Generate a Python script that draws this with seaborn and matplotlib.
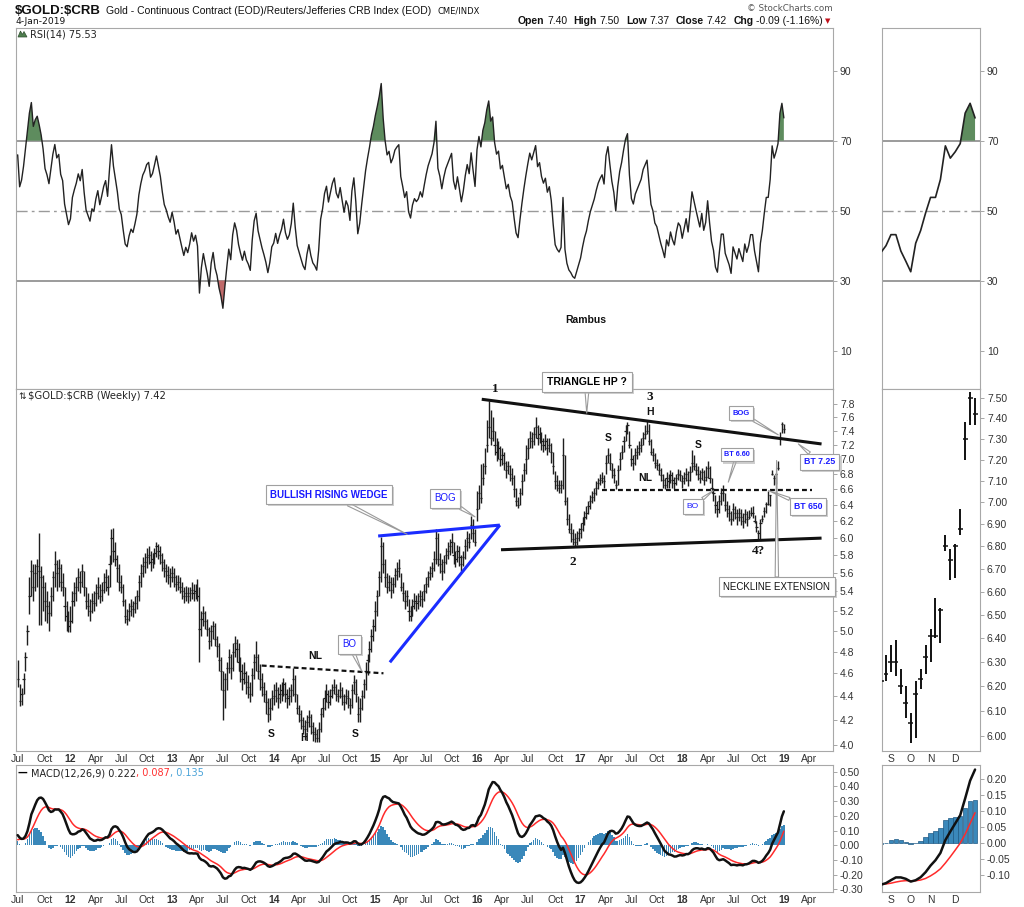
import numpy as np
import pandas as pd
import matplotlib
matplotlib.use("Agg")
import matplotlib.pyplot as plt
import matplotlib.ticker as mticker
import matplotlib.patheffects as pe
from matplotlib.patches import Polygon
import seaborn as sns

# ---------------- data (weekly bars, $GOLD:$CRB, first bar 2011-07-01) ----------------
START = "2011-07-01"
CLOSE = [
    4.55, 4.36, 4.42, 4.55, 4.75,  5.00, 5.35, 5.62, 5.45,  5.60, 5.68, 5.62, 5.55, 5.45,
    5.30, 5.25, 5.18, 5.35,  5.55, 5.70, 5.60, 5.65,  5.50, 5.45, 5.25, 5.15, 5.05,
    5.10, 5.30, 5.38, 5.45,  5.55, 5.50, 5.62, 5.45,  5.30, 5.25, 5.20, 5.30, 5.28,
    5.38, 5.45, 5.35, 5.42,  5.50, 5.55, 5.45, 5.70,  6.00, 5.85, 5.75, 5.65, 5.50,
    5.45, 5.30, 5.15, 5.12,  5.20, 5.25, 5.22, 5.28, 5.35,  5.50, 5.60, 5.68, 5.72,
    5.78, 5.80, 5.72, 5.75,  5.82, 5.90, 5.85, 5.80,  5.72, 5.65, 5.62, 5.58, 5.55,
    5.60, 5.55, 5.48, 5.50,  5.45, 5.40, 5.35, 5.38,  5.35, 5.38, 5.42, 5.38, 5.40,
    5.35, 5.02, 5.12, 5.18,  5.10, 5.02, 4.90, 5.00,  5.05, 4.92, 4.85, 4.72, 4.62,
    4.45, 4.55, 4.65, 4.75,  4.65, 4.80, 4.88, 4.82,  4.70, 4.62, 4.55, 4.60, 4.52,
    4.48, 4.42, 4.58, 4.70,  4.75, 4.62, 4.55, 4.48,  4.42, 4.35, 4.25, 4.30, 4.38,
    4.40, 4.45, 4.38, 4.42,  4.45, 4.50, 4.42, 4.38, 4.40,  4.45, 4.55, 4.42, 4.30,
    4.25, 4.20, 4.15, 4.12,  4.18, 4.22, 4.15, 4.10, 4.08,  4.05, 4.12, 4.25, 4.30,
    4.38, 4.42, 4.35, 4.40,  4.45, 4.48, 4.42, 4.40, 4.45,  4.40, 4.35, 4.40, 4.38,
    4.32, 4.45, 4.52, 4.42, 4.25,  4.30, 4.40, 4.50, 4.62,  4.72, 4.82, 4.95, 5.05,
    5.20, 5.35, 5.55, 5.90, 5.70,  5.55, 5.45, 5.50, 5.42,  5.48, 5.58, 5.62, 5.65,
    5.45, 5.38, 5.30, 5.35,  5.20, 5.15, 5.25, 5.30, 5.28,  5.30, 5.35, 5.32, 5.40,
    5.48, 5.55, 5.60, 5.65, 5.75,  6.00, 5.75, 5.70, 5.62,  5.72, 5.80, 5.85, 5.90,
    5.95, 5.80, 5.75, 5.85, 5.78,  5.70, 5.78, 5.90, 6.00,  5.95, 6.15, 6.05, 5.95,
    6.35, 6.55, 6.48, 6.75, 6.90,  7.20, 7.45, 7.30, 7.40,  7.20, 7.10, 7.15, 7.00,
    7.05, 6.95, 6.85, 6.90, 6.80,  6.75, 6.60, 6.45, 6.40,  6.55, 6.70, 6.85, 7.00,
    7.15, 7.30, 7.25, 7.35, 7.45,  7.30, 7.35, 7.25, 7.20,  7.25, 7.15, 7.20, 7.10, 6.90,
    6.70, 6.65, 6.62, 6.65,  7.05, 6.45, 6.22, 6.10,  6.05, 5.98, 5.95, 6.00, 6.05,
    6.10, 6.18, 6.25, 6.30,  6.38, 6.45, 6.50, 6.55,  6.62, 6.68, 6.72, 6.75, 6.70,
    6.95, 7.05, 6.95, 6.85,  6.78, 6.65, 6.85, 7.00,  7.10, 7.25, 7.40, 7.48, 7.20,
    7.00, 6.95, 7.05, 7.10,  7.15, 7.20, 7.30, 7.35,  7.40, 7.25, 7.10, 7.05, 6.95,
    6.92, 6.85, 6.78, 6.72,  6.65, 6.75, 6.70, 6.78,  6.72, 6.68, 6.75, 6.80, 6.78,
    6.70, 6.75, 6.80, 6.72,  6.82, 6.95, 6.90, 6.85,  6.80, 6.75, 6.82, 6.72, 6.76,
    6.88, 6.75, 6.62, 6.55,  6.40, 6.35, 6.45, 6.55,  6.55, 6.40, 6.35, 6.30, 6.22,
    6.35, 6.30, 6.25, 6.30,  6.25, 6.20, 6.28, 6.22,
    6.25, 6.30, 6.30, 6.20, 6.13,  6.05, 6.17, 6.23, 6.32, 6.41,
    6.41, 6.52, 6.80, 6.74, 6.80,  6.88, 7.30, 7.50, 7.42,
]
HIGH = [
    4.72, 4.50, 4.47, 4.60, 4.80,  5.06, 5.55, 5.74, 5.70,  5.70, 5.75, 6.06, 5.68, 5.58,
    5.50, 5.40, 5.30, 5.45,  5.62, 5.85, 5.74, 5.75,  5.70, 5.60, 5.45, 5.30, 5.20,
    5.25, 5.40, 5.50, 5.55,  5.65, 5.62, 5.70, 5.62,  5.45, 5.38, 5.32, 5.38, 5.40,
    5.48, 5.55, 5.48, 5.50,  5.60, 5.64, 5.58, 5.80,  6.10, 6.12, 5.95, 5.80, 5.70,
    5.58, 5.48, 5.32, 5.22,  5.28, 5.32, 5.30, 5.35, 5.42,  5.58, 5.70, 5.78, 5.82,
    5.88, 5.90, 5.85, 5.82,  5.88, 5.95, 5.93, 5.90,  5.82, 5.75, 5.70, 5.68, 5.65,
    5.68, 5.65, 5.58, 5.58,  5.55, 5.50, 5.45, 5.46,  5.45, 5.45, 5.50, 5.48, 5.48,
    5.53, 5.45, 5.20, 5.25,  5.20, 5.12, 5.04, 5.06,  5.10, 5.08, 4.95, 4.88, 4.75,
    4.62, 4.60, 4.70, 4.82,  4.78, 4.88, 4.95, 4.92,  4.88, 4.75, 4.68, 4.70, 4.62,
    4.58, 4.52, 4.65, 4.78,  4.90, 4.78, 4.68, 4.60,  4.52, 4.45, 4.38, 4.38, 4.45,
    4.50, 4.52, 4.48, 4.50,  4.52, 4.56, 4.52, 4.46, 4.48,  4.50, 4.65, 4.58, 4.42,
    4.32, 4.28, 4.22, 4.20,  4.24, 4.28, 4.25, 4.18, 4.14,  4.12, 4.18, 4.30, 4.38,
    4.45, 4.50, 4.45, 4.46,  4.50, 4.55, 4.50, 4.46, 4.52,  4.48, 4.42, 4.46, 4.45,
    4.38, 4.50, 4.58, 4.55, 4.40,  4.38, 4.45, 4.55, 4.70,  4.78, 4.90, 5.02, 5.12,
    5.30, 5.42, 5.62, 6.01, 5.95,  5.75, 5.60, 5.58, 5.55,  5.55, 5.65, 5.72, 5.75,
    5.60, 5.50, 5.42, 5.42,  5.32, 5.25, 5.32, 5.38, 5.36,  5.38, 5.42, 5.40, 5.48,
    5.55, 5.62, 5.68, 5.72, 5.85,  6.10, 6.05, 5.82, 5.75,  5.80, 5.88, 5.95, 5.98,
    6.05, 5.95, 5.85, 5.92, 5.90,  5.80, 5.85, 5.98, 6.08,  6.05, 6.26, 6.22, 6.10,
    6.57, 6.65, 6.93, 6.95, 7.15,  7.55, 7.85, 7.70, 7.60,  7.40, 7.30, 7.25, 7.18,
    7.15, 7.10, 6.98, 6.98, 6.92,  6.88, 6.78, 6.62, 6.50,  6.62, 6.80, 6.95, 7.20,
    7.30, 7.40, 7.38, 7.45, 7.60,  7.48, 7.45, 7.38, 7.30,  7.35, 7.30, 7.30, 7.22, 7.10,
    6.84, 6.78, 6.72, 6.72,  7.30, 7.05, 6.50, 6.28,  6.18, 6.10, 6.05, 6.08, 6.12,
    6.18, 6.25, 6.32, 6.38,  6.45, 6.52, 6.58, 6.62,  6.70, 6.75, 6.80, 6.82, 6.78,
    7.05, 7.15, 7.08, 6.95,  6.88, 6.72, 6.92, 7.10,  7.20, 7.32, 7.48, 7.52, 7.40,
    7.15, 7.05, 7.15, 7.20,  7.25, 7.30, 7.38, 7.48,  7.55, 7.50, 7.28, 7.15, 7.08,
    7.00, 6.95, 6.88, 6.80,  6.75, 6.82, 6.80, 6.85,  6.82, 6.76, 6.80, 6.86, 6.85,
    6.78, 6.82, 6.88, 6.84,  6.90, 7.12, 7.05, 6.95,  6.90, 6.85, 6.88, 6.85, 6.90,
    6.98, 6.90, 6.75, 6.62,  6.52, 6.45, 6.52, 6.62,  6.65, 6.55, 6.45, 6.40, 6.32,
    6.42, 6.38, 6.35, 6.36,  6.35, 6.30, 6.35, 6.32,
    6.33, 6.37, 6.39, 6.27, 6.20,  6.09, 6.22, 6.27, 6.37, 6.44,
    6.57, 6.53, 6.85, 6.79, 6.81,  6.97, 7.38, 7.53, 7.50,
]
LOW = [
    4.48, 4.31, 4.32, 4.42, 4.62,  4.86, 5.17, 5.35, 5.30,  5.40, 5.45, 5.06, 5.06, 5.20,
    5.10, 5.08, 5.00, 5.15,  5.30, 5.45, 5.40, 5.45,  5.40, 5.35, 5.10, 5.00, 4.99,
    4.99, 5.08, 5.25, 5.30,  5.40, 5.38, 5.45, 5.35,  5.22, 5.15, 5.10, 5.18, 5.20,
    5.25, 5.32, 5.28, 5.30,  5.38, 5.40, 5.36, 5.45,  5.70, 5.72, 5.68, 5.50, 5.40,
    5.38, 5.25, 5.08, 5.06,  5.10, 5.15, 5.14, 5.18, 5.22,  5.30, 5.45, 5.55, 5.60,
    5.65, 5.70, 5.62, 5.65,  5.70, 5.78, 5.75, 5.70,  5.62, 5.55, 5.50, 5.48, 5.45,
    5.50, 5.45, 5.40, 5.42,  5.38, 5.32, 5.28, 5.30,  5.28, 5.30, 5.32, 5.30, 5.32,
    5.30, 4.70, 4.95, 5.05,  5.02, 4.95, 4.82, 4.85,  4.92, 4.85, 4.75, 4.62, 4.45,
    4.20, 4.30, 4.45, 4.60,  4.55, 4.62, 4.75, 4.70,  4.62, 4.52, 4.45, 4.50, 4.42,
    4.38, 4.35, 4.40, 4.55,  4.62, 4.55, 4.45, 4.40,  4.35, 4.25, 4.18, 4.20, 4.28,
    4.32, 4.35, 4.30, 4.34,  4.36, 4.40, 4.35, 4.30, 4.32,  4.35, 4.40, 4.35, 4.25,
    4.18, 4.12, 4.08, 4.04,  4.10, 4.14, 4.08, 4.03, 4.02,  4.02, 4.02, 4.10, 4.22,
    4.28, 4.35, 4.30, 4.32,  4.38, 4.42, 4.36, 4.35, 4.38,  4.32, 4.28, 4.33, 4.30,
    4.25, 4.30, 4.42, 4.35, 4.18,  4.18, 4.28, 4.38, 4.45,  4.58, 4.70, 4.80, 4.90,
    5.00, 5.15, 5.35, 5.50, 5.60,  5.45, 5.38, 5.40, 5.33,  5.38, 5.45, 5.52, 5.55,
    5.40, 5.30, 5.22, 5.25,  5.10, 5.10, 5.15, 5.22, 5.20,  5.22, 5.25, 5.24, 5.30,
    5.38, 5.45, 5.52, 5.55, 5.62,  5.70, 5.68, 5.60, 5.52,  5.60, 5.70, 5.75, 5.80,
    5.82, 5.70, 5.66, 5.72, 5.68,  5.62, 5.68, 5.76, 5.85,  5.88, 5.98, 5.95, 5.90,
    6.20, 6.35, 6.42, 6.65, 6.80,  7.10, 7.30, 7.20, 7.25,  7.05, 6.98, 7.00, 6.90,
    6.92, 6.85, 6.75, 6.80, 6.70,  6.65, 6.50, 6.38, 6.36,  6.40, 6.52, 6.70, 6.80,
    7.00, 7.15, 7.15, 7.20, 7.30,  7.20, 7.22, 7.12, 7.10,  7.12, 7.05, 7.10, 6.95, 6.80,
    6.60, 6.57, 6.55, 6.55,  6.60, 6.40, 6.15, 6.05,  5.95, 5.92, 5.90, 5.91, 5.96,
    6.00, 6.08, 6.15, 6.22,  6.28, 6.35, 6.42, 6.45,  6.52, 6.60, 6.65, 6.68, 6.62,
    6.80, 6.95, 6.85, 6.75,  6.68, 6.60, 6.65, 6.85,  7.00, 7.10, 7.25, 7.35, 7.15,
    6.90, 6.85, 6.92, 7.00,  7.05, 7.10, 7.20, 7.28,  7.35, 7.20, 7.05, 6.98, 6.88,
    6.85, 6.78, 6.70, 6.62,  6.60, 6.62, 6.62, 6.68,  6.62, 6.60, 6.65, 6.72, 6.70,
    6.62, 6.66, 6.70, 6.64,  6.70, 6.82, 6.85, 6.78,  6.72, 6.68, 6.72, 6.65, 6.70,
    6.75, 6.68, 6.55, 6.45,  6.30, 6.25, 6.30, 6.40,  6.45, 6.32, 6.25, 6.20, 6.15,
    6.20, 6.22, 6.15, 6.20,  6.15, 6.12, 6.18, 6.14,
    6.22, 6.26, 6.24, 6.17, 6.07,  5.97, 5.99, 6.19, 6.25, 6.30,
    6.40, 6.38, 6.78, 6.65, 6.66,  6.85, 7.20, 7.37, 7.37,
]
# indicator starting state (estimated so that the first values match the chart)
AVG_GAIN_0, AVG_LOSS_0 = 0.060, 0.031
EMA12_0, EMA26_0, SIGNAL_0 = 4.50, 4.43, 0.03

# chart annotations (date, price)
TRENDLINES = [
    ("2016-01-18", 7.87, "2019-05-19", 7.21, "#111111", 2.2, "-"),
    ("2016-03-27", 5.86, "2019-05-19", 5.995, "#111111", 2.2, "-"),
    ("2015-01-12", 6.02, "2016-03-23", 6.15, "#1a2cff", 2.2, "-"),
    ("2015-02-23", 4.70, "2016-03-23", 6.15, "#1a2cff", 2.2, "-"),
    ("2017-03-22", 6.59, "2019-04-13", 6.59, "#111111", 1.6, "--"),
    ("2013-11-21", 4.67, "2015-01-31", 4.60, "#111111", 1.6, "--"),
]
CALLOUTS = [
    ("TRIANGLE HP ?", "2017-01-29", 8.14, "2017-01-28", 7.66, "#000000", "bold", 7.5),
    ("BULLISH RISING WEDGE", "2014-07-20", 6.53, "2015-04-26", 6.04, "#1a1aff", "bold", 7.0),
    ("BOG", "2015-09-08", 6.48, "2015-12-25", 6.25, "#1a1aff", "normal", 7.0),
    ("BO", "2014-10-01", 4.87, "2014-11-14", 4.62, "#1a1aff", "normal", 7.0),
    ("BOG", "2018-08-04", 7.66, "2018-12-15", 7.34, "#1a1aff", "bold", 5.5),
    ("BT 7.25", "2019-05-13", 6.96, "2019-02-25", 7.21, "#1a1aff", "bold", 6.3),
    ("BT 6.60", "2018-07-21", 7.06, "2018-06-19", 6.69, "#1a1aff", "bold", 5.2),
    ("BO", "2018-02-12", 6.38, "2018-04-26", 6.58, "#1a1aff", "normal", 6.0),
    ("BT 650", "2019-03-31", 6.38, "2018-11-10", 6.58, "#1a1aff", "bold", 6.2),
    ("NECKLINE EXTENSION", "2018-12-10", 5.45, "2018-12-09", 6.98, "#111111", "normal", 7.0),
]
LABELS = [
    ("1", "2016-03-08", 8.03, 9.5, "serif"), ("2", "2016-12-09", 5.72, 9.5, "serif"),
    ("3", "2017-09-12", 7.91, 9.5, "serif"), ("4?", "2018-10-05", 5.84, 9.5, "serif"),
    ("H", "2017-09-11", 7.68, 7.5, "sans"), ("S", "2017-04-15", 7.30, 7.5, "sans"),
    ("S", "2018-03-03", 7.19, 7.5, "sans"), ("NL", "2017-08-25", 6.74, 7.5, "sans"),
    ("S", "2013-12-23", 4.08, 7.5, "sans"), ("H", "2014-04-21", 4.05, 7.5, "sans"),
    ("S", "2014-10-21", 4.08, 7.5, "sans"), ("NL", "2014-05-31", 4.76, 7.5, "sans"),
]
RSI_TICKS = [10, 30, 50, 70, 90]
PRICE_TICKS = [4.0, 4.2, 4.4, 4.6, 4.8, 5.0, 5.2, 5.4, 5.6, 5.8, 6.0, 6.2, 6.4, 6.6, 6.8, 7.0, 7.2, 7.4, 7.6, 7.8]
PRICE_TICKS_R = [6.0, 6.1, 6.2, 6.3, 6.4, 6.5, 6.6, 6.7, 6.8, 6.9, 7.0, 7.1, 7.2, 7.3, 7.4, 7.5]
MACD_TICKS = [-0.3, -0.2, -0.1, 0.0, 0.1, 0.2, 0.3, 0.4, 0.5]
MACD_TICKS_R = [-0.10, -0.05, 0.0, 0.05, 0.10, 0.15, 0.20]

# ---------------- setup ----------------
sns.set_theme(style="white")
plt.rcParams["font.family"] = ["Liberation Sans", "DejaVu Sans"]
plt.rcParams["axes.unicode_minus"] = False

dates = pd.date_range(START, periods=len(CLOSE), freq="W-FRI")
close = np.array(CLOSE, float)
high = np.array(HIGH, float)
low = np.array(LOW, float)


def ema(vals, span, seed):
    a = 2.0 / (span + 1)
    out, prev = [], seed
    for v in vals:
        prev = prev + a * (v - prev)
        out.append(prev)
    return np.array(out)


macd = ema(close, 12, EMA12_0) - ema(close, 26, EMA26_0)
signal = ema(macd, 9, SIGNAL_0)
hist = macd - signal
ag, al = AVG_GAIN_0, AVG_LOSS_0
rsi = [100 - 100 / (1 + ag / al)]
for k in range(1, len(close)):
    d = close[k] - close[k - 1]
    ag = (ag * 13 + max(d, 0)) / 14
    al = (al * 13 + max(-d, 0)) / 14
    rsi.append(100 - 100 / (1 + ag / al))
rsi = np.array(rsi)

W, H = 1024, 907
fig = plt.figure(figsize=(W / 100, H / 100), dpi=100)
fig.patch.set_facecolor("white")


def add_ax(x0, y0, x1, y1):
    return fig.add_axes([x0 / W, 1 - y1 / H, (x1 - x0) / W, (y1 - y0) / H])


ax_rsi = add_ax(16, 28, 833, 389)
ax_rsi_r = add_ax(882, 28, 980, 389)
ax_p = add_ax(16, 389, 833, 751)
ax_p_r = add_ax(882, 389, 980, 751)
ax_m = add_ax(16, 765, 833, 892)
ax_m_r = add_ax(882, 765, 980, 892)

XL_MAIN = (pd.Timestamp("2011-06-25"), pd.Timestamp("2019-06-29"))
XL_R = (pd.Timestamp("2018-08-25 08:00"), pd.Timestamp("2019-01-11"))

fridays = pd.Series(pd.date_range("2011-07-01", "2019-06-28", freq="W-FRI"))
firsts = fridays.groupby([fridays.dt.year, fridays.dt.month]).first().tolist()
main_ticks = [t for t in firsts if t.month in (1, 4, 7, 10)]
main_labels = [f"{t.year % 100:02d}" if t.month == 1 else t.strftime("%b") for t in main_ticks]
r_ticks = [t for t in firsts if t.year == 2018 and t.month in (9, 10, 11, 12)]
r_labels = ["S", "O", "N", "D"]


def style(ax, xticks, xlabels, show_x):
    for s in ax.spines.values():
        s.set_color("#a8a8a8")
        s.set_linewidth(0.8)
    ax.set_facecolor("white")
    ax.grid(False)
    ax.yaxis.tick_right()
    ax.tick_params(axis="y", which="major", length=3, width=0.6, color="#999999", pad=2,
                   labelsize=7.5, labelcolor="#333333", left=False, right=True)
    ax.tick_params(axis="y", which="minor", length=0, left=False, right=False)
    ax.set_xticks(xticks)
    if show_x:
        ax.set_xticklabels(xlabels)
        for lbl in ax.get_xticklabels():
            if lbl.get_text().isdigit():
                lbl.set_fontweight("bold")
    else:
        ax.set_xticklabels([])
    ax.tick_params(axis="x", length=0, pad=2.5, labelsize=7.5, labelcolor="#333333", bottom=True)
    ax.set_xlabel("")
    ax.set_ylabel("")


# ---------------- RSI ----------------
for ax, lw in ((ax_rsi, 1.0), (ax_rsi_r, 1.2)):
    ax.axhline(70, color="#8a8a8a", lw=1.2, zorder=1)
    ax.axhline(30, color="#8a8a8a", lw=1.2, zorder=1)
    ax.axhline(50, color="#9a9a9a", lw=1.0, dashes=(8, 3, 2, 3), zorder=1)
    ax.fill_between(dates, 70, rsi, where=rsi >= 70, interpolate=True, color="#5e8c5e", lw=0, zorder=2)
    ax.fill_between(dates, 30, rsi, where=rsi <= 30, interpolate=True, color="#c06a6a", lw=0, zorder=2)
    sns.lineplot(x=dates, y=rsi, ax=ax, color="#222222", linewidth=lw, zorder=3)
    ax.set_ylim(-1, 102.2)
    ax.set_yticks(RSI_TICKS)
    ax.yaxis.set_major_formatter(mticker.FormatStrFormatter("%d"))
ax_rsi.set_xlim(*XL_MAIN)
ax_rsi_r.set_xlim(*XL_R)
style(ax_rsi, main_ticks, main_labels, False)
style(ax_rsi_r, r_ticks, r_labels, False)
ax_rsi.text(0.697, 0.19, "Rambus", transform=ax_rsi.transAxes, ha="center", va="center",
            fontsize=7.5, fontweight="bold", color="#111111")

# ---------------- price ----------------
ax_p.set_yscale("log")
ax_p.vlines(dates, low, high, color="#1e1e1e", lw=1.0, zorder=3)
ax_p.hlines(close, dates - pd.Timedelta(days=4), dates + pd.Timedelta(days=4), color="#1e1e1e", lw=0.9, zorder=3)
ax_p.set_xlim(*XL_MAIN)
ax_p.set_ylim(3.95, 8.03)
ax_p.yaxis.set_major_locator(mticker.FixedLocator(PRICE_TICKS))
ax_p.yaxis.set_major_formatter(mticker.FormatStrFormatter("%.1f"))
ax_p.yaxis.set_minor_locator(mticker.NullLocator())
style(ax_p, main_ticks, main_labels, True)

ax_p_r.set_yscale("log")
ax_p_r.vlines(dates, low, high, color="#111111", lw=1.4, zorder=3)
ax_p_r.hlines(close, dates - pd.Timedelta(days=3.5), dates + pd.Timedelta(days=3.5), color="#111111", lw=1.1, zorder=3)
ax_p_r.set_xlim(*XL_R)
ax_p_r.set_ylim(5.94, 7.545)
ax_p_r.yaxis.set_major_locator(mticker.FixedLocator(PRICE_TICKS_R))
ax_p_r.yaxis.set_major_formatter(mticker.FormatStrFormatter("%.2f"))
ax_p_r.yaxis.set_minor_locator(mticker.NullLocator())
style(ax_p_r, r_ticks, r_labels, True)

for d0, p0, d1, p1, col, lw, ls in TRENDLINES:
    ax_p.plot([pd.Timestamp(d0), pd.Timestamp(d1)], [p0, p1], color=col, lw=lw, ls=ls,
              dashes=(2.2, 1.4) if ls == "--" else (None, None), zorder=4, solid_capstyle="butt")

for txt, d, p, fs, fam in LABELS:
    ax_p.text(pd.Timestamp(d), p, txt, ha="center", va="center", fontsize=fs, fontweight="bold",
              family=["Liberation Serif"] if fam == "serif" else ["Liberation Sans"],
              color="#111111", clip_on=False, zorder=6)

for txt, d, p, td, tp, col, wt, fs in CALLOUTS:
    ann = ax_p.annotate(
        txt, xy=(pd.Timestamp(td), tp), xytext=(pd.Timestamp(d), p), textcoords="data",
        ha="center", va="center", fontsize=fs, fontweight=wt, color=col,
        bbox=dict(boxstyle="square,pad=0.45", fc="white", ec="#a0a0a0", lw=0.8),
        arrowprops=dict(arrowstyle="wedge,tail_width=0.35,shrink_factor=0.5", fc="white", ec="#9a9a9a",
                        lw=0.8, shrinkA=0, shrinkB=0),
        annotation_clip=False, zorder=8)
    ann.get_bbox_patch().set_path_effects([pe.SimplePatchShadow(offset=(1.5, -1.5), shadow_rgbFace="#b0b0b0", alpha=0.6), pe.Normal()])

# ---------------- MACD ----------------
for ax, bw, ec in ((ax_m, 5.5, "none"), (ax_m_r, 6.4, "#1e5a85")):
    ax.bar(dates, hist, width=bw, color="#3a88ba", edgecolor=ec, linewidth=0.5, zorder=2)
    sns.lineplot(x=dates, y=macd, ax=ax, color="#111111", linewidth=1.8, zorder=4)
    sns.lineplot(x=dates, y=signal, ax=ax, color="#ff2a2a", linewidth=1.1, zorder=3)
ax_m.set_xlim(*XL_MAIN)
ax_m.set_ylim(-0.318, 0.546)
ax_m.set_yticks(MACD_TICKS)
ax_m.yaxis.set_major_formatter(mticker.FormatStrFormatter("%.2f"))
style(ax_m, main_ticks, main_labels, True)
ax_m_r.set_xlim(*XL_R)
ax_m_r.set_ylim(-0.152, 0.245)
ax_m_r.set_yticks(MACD_TICKS_R)
ax_m_r.yaxis.set_major_formatter(mticker.FormatStrFormatter("%.2f"))
style(ax_m_r, r_ticks, r_labels, True)

# ---------------- header / panel titles ----------------
renderer = fig.canvas.get_renderer()


def run(x, y, parts, align="left"):
    arts, widths = [], []
    for s, kw, gap in parts:
        t = fig.text(0, 0, s, va="center", ha="left", **kw)
        arts.append(t)
        widths.append(t.get_window_extent(renderer).width + gap)
    cur = x - sum(widths) if align == "right" else x
    for t, w in zip(arts, widths):
        t.set_position((cur / W, 1 - y / H))
        cur += w


DV = ["DejaVu Sans"]
run(15, 10.5, [("\\$GOLD:\\$CRB", dict(fontsize=9.5, fontweight="bold", color="#111"), 5),
               ("Gold - Continuous Contract (EOD)/Reuters/Jefferies CRB Index (EOD)", dict(fontsize=7.5, color="#111"), 6),
               ("CME/INDX", dict(fontsize=6, family=DV, color="#111"), 0)])
run(15, 21.5, [("4-Jan-2019", dict(fontsize=6.6, family=DV, color="#111"), 0)])
fig.text(833 / W, 1 - 8.5 / H, "\u00a9 StockCharts.com", ha="right", va="center", fontsize=6.3, family=DV, color="#555555")
B = dict(fontsize=7.5, fontweight="bold", color="#111")
R = dict(fontsize=7.5, color="#111")
run(823, 21, [("Open", B, 3), ("7.40", R, 6), ("High", B, 3), ("7.50", R, 6), ("Low", B, 3), ("7.37", R, 6),
              ("Close", B, 3), ("7.42", R, 6), ("Chg", B, 3), ("-0.09 (-1.16%)", R, 0)], align="right")
fig.text(825 / W, 1 - 21 / H, "\u25bc", ha="left", va="center", fontsize=5, family=DV, color="#c0101a")

fig.add_artist(Polygon([(18 / W, 1 - 37 / H), (20.5 / W, 1 - 31 / H), (22.3 / W, 1 - 34.5 / H),
                        (24 / W, 1 - 31.5 / H), (27 / W, 1 - 37 / H)], closed=True,
                       transform=fig.transFigure, fc="#4f7f4f", ec="#2f4f2f", lw=0.5))
run(30, 34.5, [("RSI(14) 75.53", dict(fontsize=7, family=DV, color="#222"), 0)])
run(18, 396.5, [("\u21c5", dict(fontsize=6.5, family=DV, color="#222"), 2),
                ("\\$GOLD:\\$CRB (Weekly) 7.42", dict(fontsize=7.2, family=DV, color="#222"), 0)])
run(18, 773, [("\u2014", dict(fontsize=7, family=DV, color="#000", fontweight="bold"), 3),
              ("MACD(12,26,9) 0.222", dict(fontsize=7, family=DV, color="#222"), 0),
              (", 0.087", dict(fontsize=7, family=DV, color="#ff3030"), 0),
              (", 0.135", dict(fontsize=7, family=DV, color="#4aa3d8"), 0)])

fig.savefig("out.png", dpi=100, facecolor="white")
